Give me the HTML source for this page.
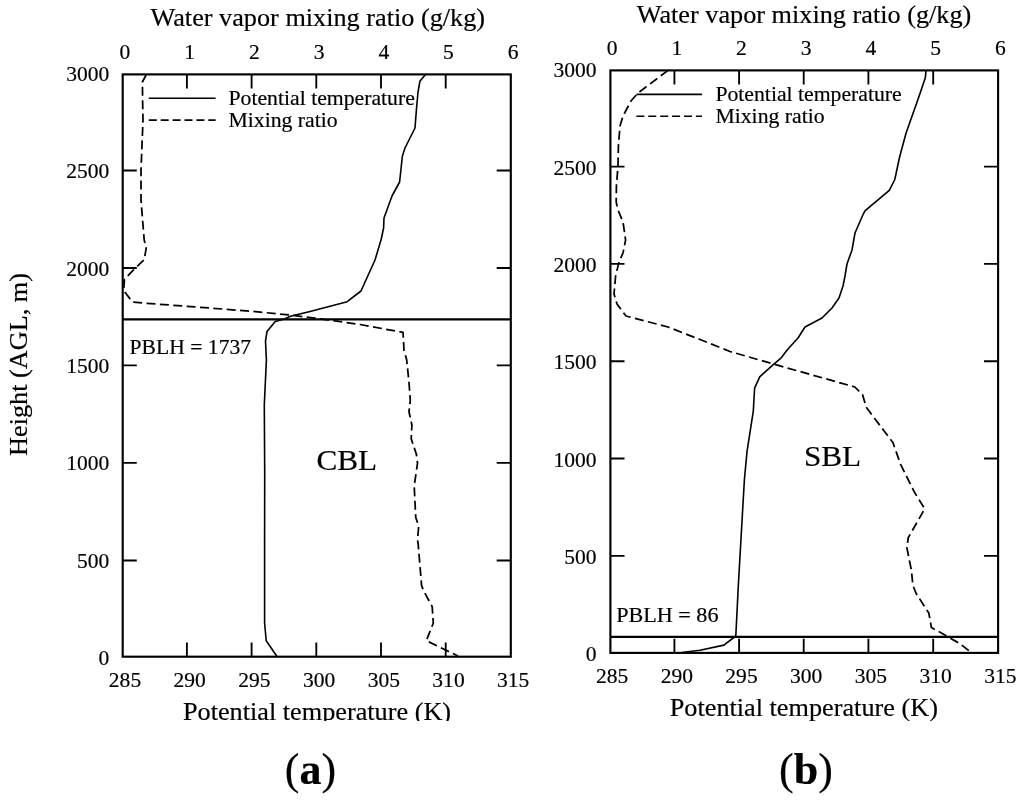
<!DOCTYPE html>
<html><head><meta charset="utf-8"><title>PBLH profiles</title>
<style>
html,body{margin:0;padding:0;background:#fff;}
svg{display:block;}
text{font-family:"Liberation Serif", "DejaVu Serif", serif;fill:#000;stroke:#000;stroke-width:0.18px;}
svg{filter:blur(0.3px);}
.tk{font-size:20.5px;}
.ti{font-size:25px;}
.lg{font-size:20.4px;}
.bl{font-size:30px;}
.cap{font-size:44px;}
</style></head><body>
<svg width="1024" height="801" viewBox="0 0 1024 801">
<rect width="1024" height="801" fill="#fff"/>
<rect x="122.7" y="74.4" width="388.10" height="582.30" fill="none" stroke="#000" stroke-width="2.15"/>
<path d="M186.90 74.4v14.1M186.90 656.7v-14.1M251.60 74.4v14.1M251.60 656.7v-14.1M316.30 74.4v14.1M316.30 656.7v-14.1M381.00 74.4v14.1M381.00 656.7v-14.1M445.70 74.4v14.1M445.70 656.7v-14.1M122.7 170.50h14.1M510.8 170.50h-14.1M122.7 268.00h14.1M510.8 268.00h-14.1M122.7 365.40h14.1M510.8 365.40h-14.1M122.7 462.90h14.1M510.8 462.90h-14.1M122.7 560.50h14.1M510.8 560.50h-14.1" stroke="#000" stroke-width="1.85" fill="none"/>
<text transform="translate(125.00 59.30) scale(1.05 1)" class="tk" text-anchor="middle">0</text>
<text transform="translate(125.00 686.80) scale(1.05 1)" class="tk" text-anchor="middle">285</text>
<text transform="translate(189.70 59.30) scale(1.05 1)" class="tk" text-anchor="middle">1</text>
<text transform="translate(189.70 686.80) scale(1.05 1)" class="tk" text-anchor="middle">290</text>
<text transform="translate(254.40 59.30) scale(1.05 1)" class="tk" text-anchor="middle">2</text>
<text transform="translate(254.40 686.80) scale(1.05 1)" class="tk" text-anchor="middle">295</text>
<text transform="translate(319.10 59.30) scale(1.05 1)" class="tk" text-anchor="middle">3</text>
<text transform="translate(319.10 686.80) scale(1.05 1)" class="tk" text-anchor="middle">300</text>
<text transform="translate(383.80 59.30) scale(1.05 1)" class="tk" text-anchor="middle">4</text>
<text transform="translate(383.80 686.80) scale(1.05 1)" class="tk" text-anchor="middle">305</text>
<text transform="translate(448.50 59.30) scale(1.05 1)" class="tk" text-anchor="middle">5</text>
<text transform="translate(448.50 686.80) scale(1.05 1)" class="tk" text-anchor="middle">310</text>
<text transform="translate(513.20 59.30) scale(1.05 1)" class="tk" text-anchor="middle">6</text>
<text transform="translate(513.20 686.80) scale(1.05 1)" class="tk" text-anchor="middle">315</text>
<text transform="translate(109.20 81.10) scale(1.05 1)" class="tk" text-anchor="end">3000</text>
<text transform="translate(109.20 178.43) scale(1.05 1)" class="tk" text-anchor="end">2500</text>
<text transform="translate(109.20 275.77) scale(1.05 1)" class="tk" text-anchor="end">2000</text>
<text transform="translate(109.20 373.10) scale(1.05 1)" class="tk" text-anchor="end">1500</text>
<text transform="translate(109.20 470.43) scale(1.05 1)" class="tk" text-anchor="end">1000</text>
<text transform="translate(109.20 567.77) scale(1.05 1)" class="tk" text-anchor="end">500</text>
<text transform="translate(109.20 665.10) scale(1.05 1)" class="tk" text-anchor="end">0</text>
<path d="M122.7 319.4H510.8" stroke="#000" stroke-width="2.15" fill="none"/>
<polyline points="425.6,74.4 420.0,81.0 418.0,92.0 416.4,110.0 415.0,128.0 405.0,148.0 402.4,156.0 399.6,182.0 392.0,196.0 384.0,218.0 383.6,228.0 381.0,240.0 375.0,260.0 361.0,291.0 347.2,301.7 310.0,311.5 290.4,316.3 284.5,319.0 275.2,321.5 267.0,331.6 265.5,341.0 266.4,360.0 264.3,405.0 264.7,472.0 264.6,540.0 264.6,623.0 266.2,640.7 277.0,656.5" fill="none" stroke="#000" stroke-width="1.6" stroke-linejoin="round"/>
<polyline points="146.4,74.4 142.4,82.0 142.6,100.0 143.0,120.0 141.0,170.0 141.0,200.0 142.6,220.0 144.2,240.0 146.2,248.2 144.2,259.8 135.3,268.0 124.4,279.6 123.7,290.6 132.6,302.2 250.0,311.1 291.6,315.2 315.0,318.1 360.0,324.5 403.0,332.4 404.0,350.0 406.7,360.0 409.0,382.5 410.3,400.4 409.0,411.7 411.9,425.0 411.2,438.7 416.4,454.4 417.5,463.4 414.2,485.8 415.7,517.3 418.7,526.3 417.5,540.0 418.1,543.4 421.6,585.6 424.0,591.5 432.2,606.7 433.3,623.1 426.3,640.7 458.0,656.0" fill="none" stroke="#000" stroke-width="1.75" stroke-linejoin="round" stroke-dasharray="9 4.4"/>
<path d="M148.8 98.2H215.6" stroke="#000" stroke-width="1.6" fill="none"/>
<path d="M148.8 120.1H215.6" stroke="#000" stroke-width="1.6" fill="none" stroke-dasharray="8 3.9"/>
<text transform="translate(228.50 104.90) scale(1.065 1)" class="lg" text-anchor="start">Potential temperature</text>
<text transform="translate(228.50 126.90) scale(1.065 1)" class="lg" text-anchor="start">Mixing ratio</text>
<text transform="translate(129.60 354.00) scale(1.06 1)" class="lg" text-anchor="start">PBLH = 1737</text>
<text transform="translate(346.80 470.10) scale(1.04 1)" class="bl" text-anchor="middle">CBL</text>
<text transform="translate(317.80 26.30) scale(1.05 1)" class="ti" text-anchor="middle">Water vapor mixing ratio (g/kg)</text>
<text transform="translate(317.00 719.50) scale(1.05 1)" class="ti" text-anchor="middle">Potential temperature (K)</text>
<rect x="610.4" y="70.4" width="387.70" height="582.50" fill="none" stroke="#000" stroke-width="2.15"/>
<path d="M674.40 70.4v14.1M674.40 652.9v-14.1M739.10 70.4v14.1M739.10 652.9v-14.1M803.70 70.4v14.1M803.70 652.9v-14.1M868.40 70.4v14.1M868.40 652.9v-14.1M933.20 70.4v14.1M933.20 652.9v-14.1M610.4 166.60h14.1M998.1 166.60h-14.1M610.4 263.90h14.1M998.1 263.90h-14.1M610.4 361.20h14.1M998.1 361.20h-14.1M610.4 458.50h14.1M998.1 458.50h-14.1M610.4 555.80h14.1M998.1 555.80h-14.1" stroke="#000" stroke-width="1.85" fill="none"/>
<text transform="translate(612.10 55.30) scale(1.05 1)" class="tk" text-anchor="middle">0</text>
<text transform="translate(612.10 682.60) scale(1.05 1)" class="tk" text-anchor="middle">285</text>
<text transform="translate(676.80 55.30) scale(1.05 1)" class="tk" text-anchor="middle">1</text>
<text transform="translate(676.80 682.60) scale(1.05 1)" class="tk" text-anchor="middle">290</text>
<text transform="translate(741.50 55.30) scale(1.05 1)" class="tk" text-anchor="middle">2</text>
<text transform="translate(741.50 682.60) scale(1.05 1)" class="tk" text-anchor="middle">295</text>
<text transform="translate(806.10 55.30) scale(1.05 1)" class="tk" text-anchor="middle">3</text>
<text transform="translate(806.10 682.60) scale(1.05 1)" class="tk" text-anchor="middle">300</text>
<text transform="translate(870.80 55.30) scale(1.05 1)" class="tk" text-anchor="middle">4</text>
<text transform="translate(870.80 682.60) scale(1.05 1)" class="tk" text-anchor="middle">305</text>
<text transform="translate(935.60 55.30) scale(1.05 1)" class="tk" text-anchor="middle">5</text>
<text transform="translate(935.60 682.60) scale(1.05 1)" class="tk" text-anchor="middle">310</text>
<text transform="translate(1000.30 55.30) scale(1.05 1)" class="tk" text-anchor="middle">6</text>
<text transform="translate(1000.30 682.60) scale(1.05 1)" class="tk" text-anchor="middle">315</text>
<text transform="translate(596.40 77.30) scale(1.05 1)" class="tk" text-anchor="end">3000</text>
<text transform="translate(596.40 174.60) scale(1.05 1)" class="tk" text-anchor="end">2500</text>
<text transform="translate(596.40 271.90) scale(1.05 1)" class="tk" text-anchor="end">2000</text>
<text transform="translate(596.40 369.20) scale(1.05 1)" class="tk" text-anchor="end">1500</text>
<text transform="translate(596.40 466.50) scale(1.05 1)" class="tk" text-anchor="end">1000</text>
<text transform="translate(596.40 563.80) scale(1.05 1)" class="tk" text-anchor="end">500</text>
<text transform="translate(596.40 661.10) scale(1.05 1)" class="tk" text-anchor="end">0</text>
<path d="M610.4 636.8H998.1" stroke="#000" stroke-width="2.15" fill="none"/>
<polyline points="926.0,70.4 925.4,77.5 918.9,96.8 906.0,133.3 899.6,157.0 894.8,179.5 889.3,190.3 865.2,210.7 863.5,213.5 855.0,233.0 852.0,250.0 847.0,264.0 845.0,276.0 843.0,286.0 839.0,298.0 832.0,308.0 822.0,318.0 805.0,327.0 798.0,338.0 788.0,349.0 781.2,357.8 772.4,365.4 759.7,376.8 754.6,388.2 753.3,411.1 747.0,451.7 744.4,479.6 741.5,530.0 738.3,586.0 735.8,636.0 723.9,645.1 700.0,650.3 681.8,652.5" fill="none" stroke="#000" stroke-width="1.6" stroke-linejoin="round"/>
<polyline points="668.0,70.4 638.0,93.0 631.0,101.0 623.0,116.0 620.0,126.0 618.4,146.0 618.0,166.0 616.4,186.0 616.2,202.0 618.0,210.0 623.0,222.0 625.6,240.0 623.0,253.0 619.0,262.0 615.6,276.0 614.0,294.0 617.0,304.0 626.0,316.0 668.0,327.0 700.0,339.5 730.0,351.5 773.6,364.1 854.9,387.0 862.5,394.6 866.3,407.3 893.0,442.8 900.6,464.4 914.5,492.3 924.7,508.8 908.2,537.8 906.9,547.9 911.5,570.8 912.8,585.0 916.0,593.2 928.8,613.0 931.4,627.5 944.5,634.8 960.0,643.7 970.5,652.0" fill="none" stroke="#000" stroke-width="1.75" stroke-linejoin="round" stroke-dasharray="9 4.4"/>
<path d="M636.4 94.4H702" stroke="#000" stroke-width="1.6" fill="none"/>
<path d="M636.4 116.2H702" stroke="#000" stroke-width="1.6" fill="none" stroke-dasharray="8 3.9"/>
<text transform="translate(715.40 101.00) scale(1.065 1)" class="lg" text-anchor="start">Potential temperature</text>
<text transform="translate(715.40 123.00) scale(1.065 1)" class="lg" text-anchor="start">Mixing ratio</text>
<text transform="translate(616.30 621.90) scale(1.085 1)" class="lg" text-anchor="start">PBLH = 86</text>
<text transform="translate(832.50 466.20) scale(1.04 1)" class="bl" text-anchor="middle">SBL</text>
<text transform="translate(804.00 22.50) scale(1.05 1)" class="ti" text-anchor="middle">Water vapor mixing ratio (g/kg)</text>
<text transform="translate(803.80 715.70) scale(1.05 1)" class="ti" text-anchor="middle">Potential temperature (K)</text>
<text transform="translate(27 364.5) rotate(-90) scale(1.05 1)" class="ti" text-anchor="middle">Height (AGL, m)</text>
<rect x="0" y="721" width="1024" height="20" fill="#fff"/>
<text transform="translate(310.50 783.60) scale(1.0 1)" class="cap" text-anchor="middle">(<tspan font-weight="bold">a</tspan>)</text>
<text transform="translate(806.00 783.60) scale(1.0 1)" class="cap" text-anchor="middle">(<tspan font-weight="bold">b</tspan>)</text>
</svg>
</body></html>
